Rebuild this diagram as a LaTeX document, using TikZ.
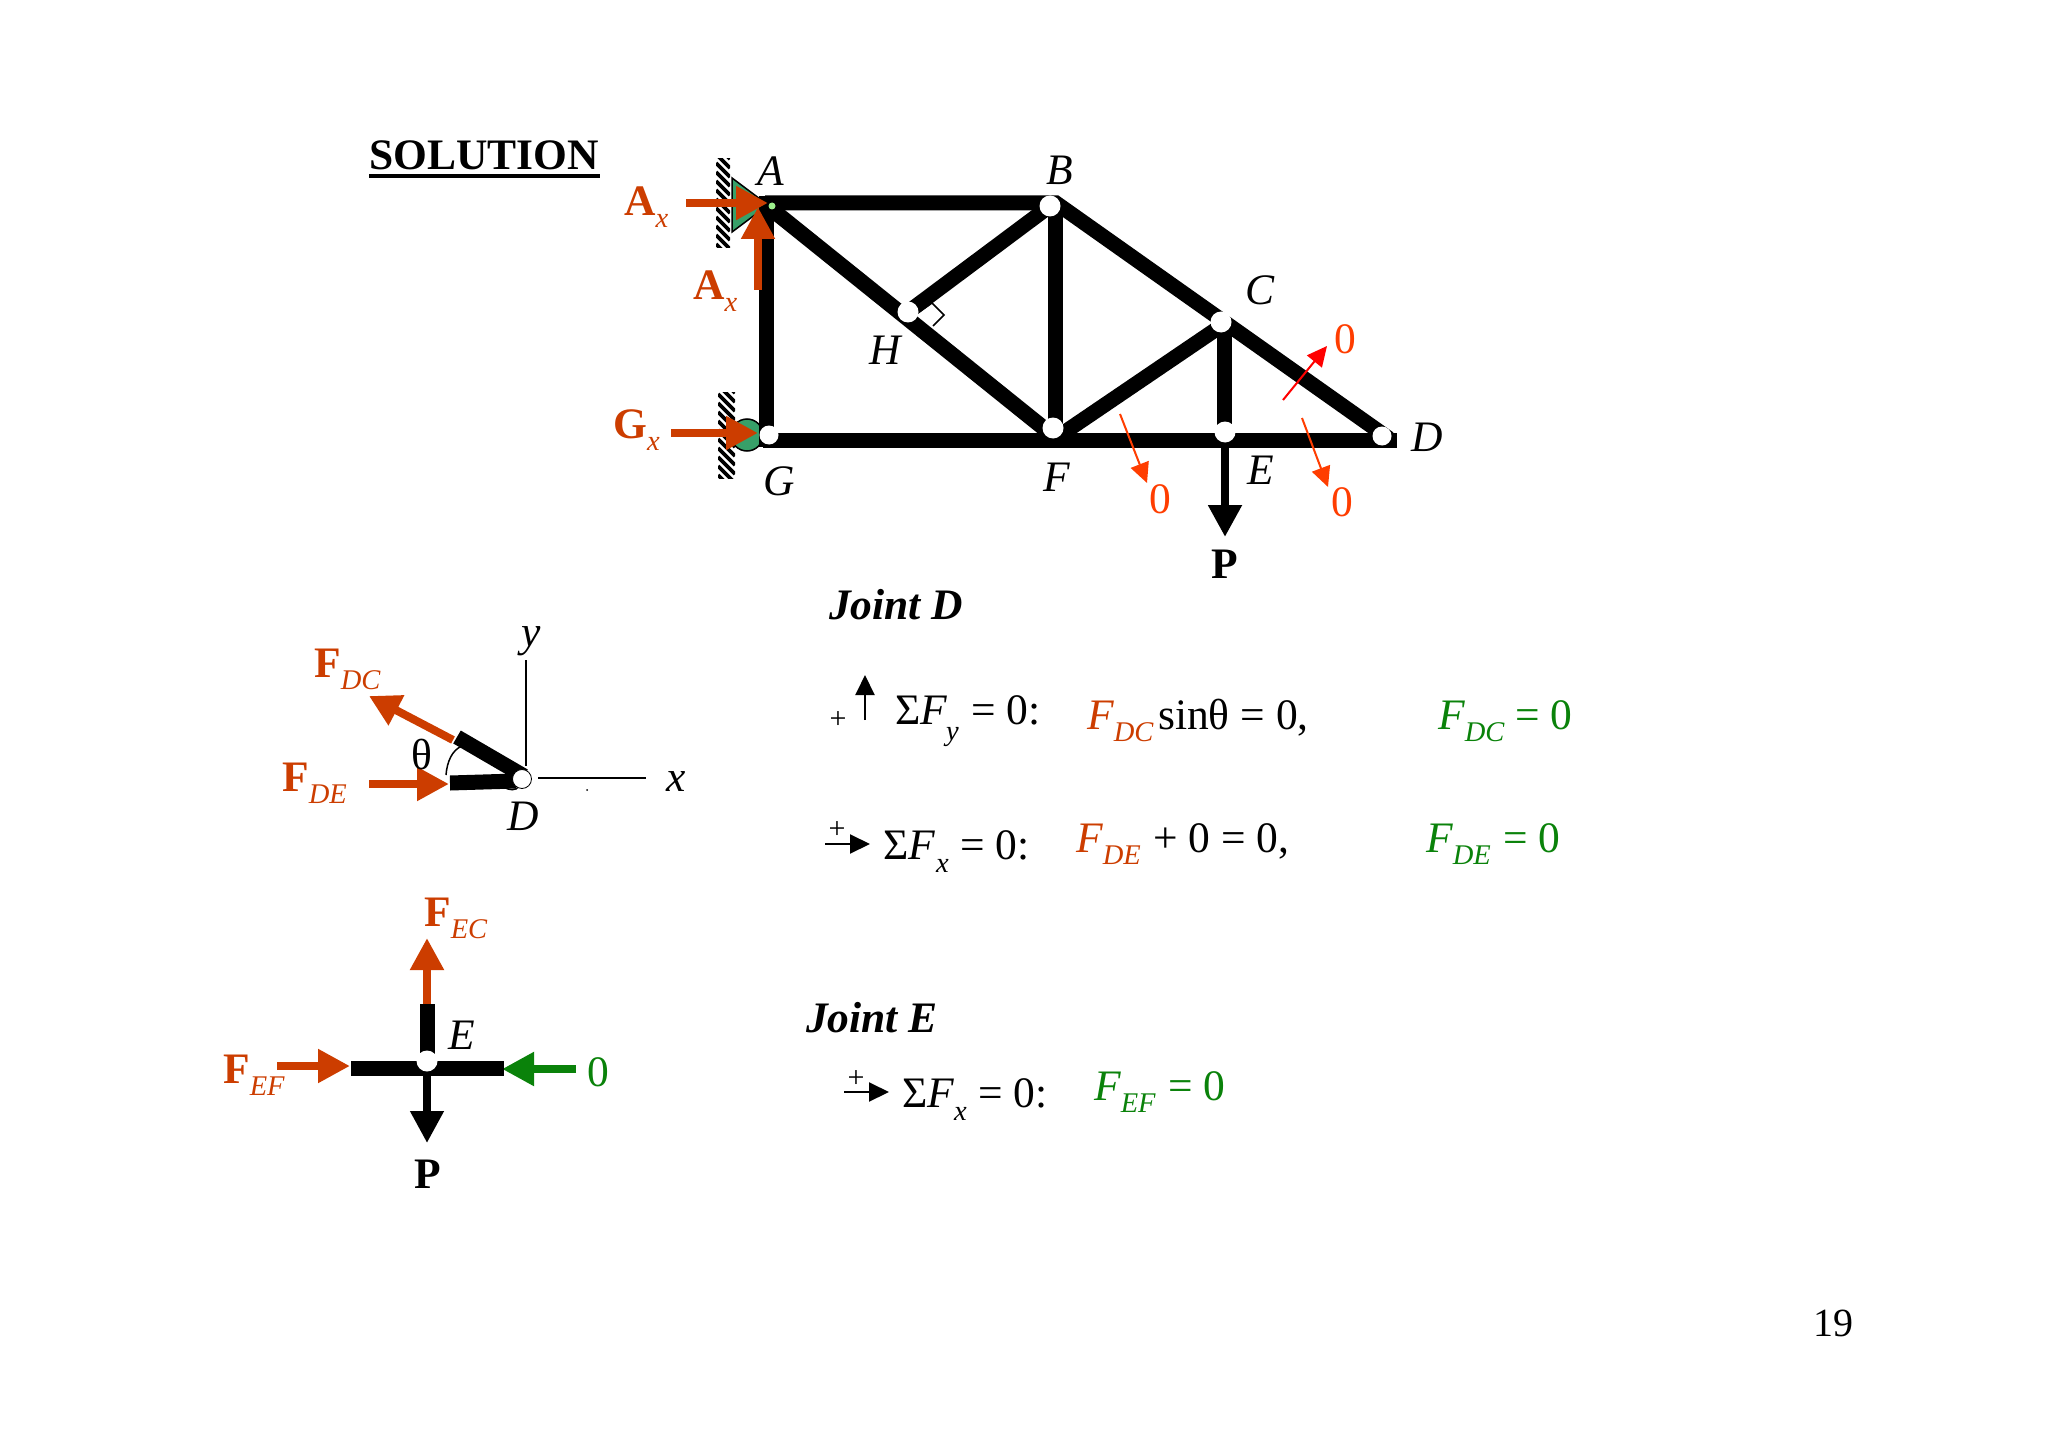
\documentclass[tikz,border=0pt]{standalone}
\usepackage{fontspec}
\setmainfont{Liberation Serif}
\usetikzlibrary{arrows.meta}
\definecolor{frc}{HTML}{CC3D00}
\definecolor{zer}{HTML}{FF3D00}
\definecolor{grn}{HTML}{0A820A}
\definecolor{sup}{HTML}{37A069}
\definecolor{dotg}{HTML}{9CF08C}
\newcommand{\bigf}{\fontsize{43.5}{50}\selectfont}
\newcommand{\subf}{\fontsize{28.5}{34}\selectfont}
\newcommand{\rsub}[1]{\raisebox{-12pt}{\subf\itshape #1}}
\newcommand{\bsub}[2]{{\bfseries #1}\rsub{#2}}
\newcommand{\isub}[2]{{\itshape #1}\rsub{#2}}
\tikzset{
  x=1pt,y=-1pt,
  member/.style={line width=15pt,line cap=butt,line join=miter,draw=black},
  joint/.style={circle,fill=white,inner sep=0pt,minimum size=21pt},
  txt/.style={anchor=base west,inner sep=0pt,font=\bigf},
  ctxt/.style={anchor=base,inner sep=0pt,font=\bigf},
  small/.style={anchor=base,inner sep=0pt,font=\fontsize{30}{34}\selectfont},
  force/.style={line width=8pt,draw=frc,-{Triangle[length=32pt,width=32pt]}},
  thinf/.style={line width=2pt,-{Triangle[length=20pt,width=19pt]}},
  axis/.style={line width=2pt,draw=black},
  hatchl/.style={line width=3.7pt,draw=black}
}
\begin{document}
\begin{tikzpicture}
\useasboundingbox (0,0) rectangle (2048,1447);
% ---------- supports
\begin{scope}
  \clip (716,159) rectangle (730,248);
  \foreach \i in {0,...,13} {\draw[hatchl] (716,145+9*\i) -- (730,159+9*\i);}
\end{scope}
\begin{scope}
  \clip (718,392) rectangle (735,478);
  \foreach \i in {0,...,13} {\draw[hatchl] (718,376+9*\i) -- (735,393+9*\i);}
\end{scope}
\draw[line width=1.5pt,fill=sup] (732,178) -- (768,205) -- (732,232) -- cycle;
\draw[line width=1.5pt,fill=sup] (747,435) circle (16);
% ---------- truss coordinates
\coordinate (tA) at (765,203);
\coordinate (tB) at (1056,203);
\coordinate (tD) at (1389,438.5);
\coordinate (vAt) at (766,196);
\coordinate (vAb) at (766,447);
\coordinate (bG) at (763,440);
\coordinate (bD) at (1397,440);
\coordinate (dA) at (770,208);
\coordinate (dF) at (1056,438);
\coordinate (hH) at (908,312);
\coordinate (hB) at (1050,206);
\coordinate (vBt) at (1055,203);
\coordinate (vBb) at (1055,440);
\coordinate (cF) at (1056,438);
\coordinate (cC) at (1221,326);
\coordinate (vCt) at (1224,322);
\coordinate (vCb) at (1224,440);
\draw[member] (vAt) -- (vAb);
\draw[member] (bG) -- (bD);
\draw[member,line width=15.5pt] (dA) -- (dF);
\draw[member] (hH) -- (hB);
\draw[member] (vBt) -- (vBb);
\draw[member] (cF) -- (cC);
\draw[member] (vCt) -- (vCb);
\draw[member] (tA.center) -- (tB.center) -- (tD.center);
\draw[line width=1.5pt] (918,313) -- (932,303) -- (944,315) -- (933,326);
% ---------- load and reactions
\coordinate (pS) at (1225,447);
\coordinate (pT) at (1225,537);
\draw[line width=8pt,-{Triangle[length=32pt,width=32pt]}] (pS) -- (pT);
\node[circle,fill=dotg,inner sep=0pt,minimum size=7pt] (A) at (772,206) {};
\coordinate (axS) at (686,203); \coordinate (axT) at (768,203);
\draw[force] (axS) -- (axT);
\coordinate (ayS) at (758,290); \coordinate (ayT) at (758,207);
\draw[force] (ayS) -- (ayT);
\coordinate (gxS) at (671,433); \coordinate (gxT) at (758,433);
\draw[force] (gxS) -- (gxT);
% ---------- joints
\node[joint] (B) at (1050,206) {};
\node[joint] (H) at (908,312) {};
\node[joint] (F) at (1053,428) {};
\node[joint,minimum size=19pt] (G) at (769,435) {};
\node[joint] (C) at (1221,322) {};
\node[joint] (E) at (1225,432) {};
\node[joint,minimum size=19pt] (D) at (1382,436) {};
% ---------- zero arrows
\coordinate (z1S) at (1283,400); \coordinate (z1T) at (1327,346);
\draw[thinf,draw=red,fill=red] (z1S) -- (z1T);
\coordinate (z2S) at (1120,414); \coordinate (z2T) at (1147,483);
\draw[thinf,draw=zer,fill=zer] (z2S) -- (z2T);
\coordinate (z3S) at (1302,418); \coordinate (z3T) at (1328,487);
\draw[thinf,draw=zer,fill=zer] (z3S) -- (z3T);
% ---------- truss labels
\node[txt,font=\bigf\bfseries] (sol) at (369,170) {SOLUTION};
\coordinate (solL) at (369,176.5); \coordinate (solR) at (600,176.5);
\draw[line width=4pt] (solL) -- (solR);
\node[ctxt,font=\bigf\itshape] (lA) at (771,186) {A};
\node[ctxt,font=\bigf\itshape] (lB) at (1060,185) {B};
\node[ctxt,font=\bigf\itshape] (lH) at (885,364) {H};
\node[ctxt,font=\bigf\itshape] (lG) at (779,495) {G};
\node[ctxt,font=\bigf\itshape] (lF) at (1057,491) {F};
\node[ctxt,font=\bigf\itshape] (lC) at (1260,305) {C};
\node[ctxt,font=\bigf\itshape] (lD) at (1427,451) {D};
\node[ctxt,font=\bigf\itshape] (lE) at (1261,484) {E};
\node[ctxt,text=zer] (z1) at (1345,353) {0};
\node[ctxt,text=zer] (z2) at (1160,513) {0};
\node[ctxt,text=zer] (z3) at (1342,516) {0};
\node[ctxt,font=\bigf\bfseries] (lP) at (1225,578) {P};
\node[txt,text=frc] (lAx) at (624,216) {\bsub{A}{x}};
\node[txt,text=frc] (lAy) at (693,300) {\bsub{A}{x}};
\node[txt,text=frc] (lGx) at (613,438) {\bsub{G}{x}};
% ---------- joint D free body
\coordinate (yT) at (526,660); \coordinate (yB) at (526,766);
\draw[axis] (yT) -- (yB);
\coordinate (xL) at (538,778); \coordinate (xR) at (646,778);
\draw[axis] (xL) -- (xR);
\coordinate (fdcE) at (453,740); \coordinate (fdcT) at (369,696);
\draw[force,-{Triangle[length=31pt,width=32pt]}] (fdcE) -- (fdcT);
\coordinate (fdeS) at (369,784); \coordinate (fdeT) at (449,784);
\draw[force] (fdeS) -- (fdeT);
\coordinate (mdc1) at (457,737); \coordinate (mdc2) at (524,776);
\coordinate (mde1) at (450,783); \coordinate (mde2) at (516,781);
\draw[member] (mdc1) -- (mdc2);
\draw[member] (mde1) -- (mde2);
\draw[line width=1.5pt] (446,775) .. controls (447,762) and (452,750) .. (462,746);
\draw[line width=1.5pt] (503,786) .. controls (508,791) and (517,791) .. (519,786);
\node[joint,minimum size=19pt,draw=black,line width=0.8pt] (D2) at (522,779) {};
\fill (587,790) circle (1);
\node[ctxt,font=\bigf\itshape] (ly) at (531,646) {y};
\node[ctxt,font=\bigf\itshape] (lx) at (676,791) {x};
\node[ctxt,font=\bigf\itshape] (lD2) at (523,830) {D};
\node[ctxt] (lth) at (422,769) {θ};
\node[txt,text=frc] (lFDC) at (314,677) {\bsub{F}{DC}};
\node[txt,text=frc] (lFDE) at (282,791) {\bsub{F}{DE}};
% ---------- joint E free body
\coordinate (mh1) at (351,1068); \coordinate (mh2) at (504,1068);
\coordinate (mv1) at (427,1004); \coordinate (mv2) at (427,1060);
\coordinate (fecS) at (427,1004); \coordinate (fecT) at (427,938);
\draw[force] (fecS) -- (fecT);
\coordinate (pES) at (427,1070); \coordinate (pET) at (427,1143);
\draw[line width=7.5pt,-{Triangle[length=32pt,width=32pt]}] (pES) -- (pET);
\coordinate (fefS) at (277,1066); \coordinate (fefT) at (350,1066);
\draw[force] (fefS) -- (fefT);
\coordinate (z0S) at (576,1069); \coordinate (z0T) at (502,1069);
\draw[force,draw=grn] (z0S) -- (z0T);
\draw[member] (mh1) -- (mh2);
\draw[member] (mv1) -- (mv2);
\node[joint] (E2) at (427,1061) {};
\node[ctxt,font=\bigf\itshape] (lE2) at (462,1049) {E};
\node[ctxt,text=grn] (lz0) at (598,1086) {0};
\node[ctxt,font=\bigf\bfseries] (lP2) at (428,1188) {P};
\node[txt,text=frc] (lFEC) at (424,926) {\bsub{F}{EC}};
\node[txt,text=frc] (lFEF) at (223,1083) {\bsub{F}{EF}};
% ---------- Joint D equations
\node[txt,font=\bigf\bfseries\itshape] (jD) at (829,619) {Joint D};
\coordinate (upS) at (865,720); \coordinate (upT) at (865,675);
\draw[thinf] (upS) -- (upT);
\node[small] (pl1) at (838,728) {+};
\node[txt] (sFy) at (895,724) {Σ\textit{F}};
\node[txt,font=\subf\itshape] (sFyS) at (946,740) {y};
\node[txt] (eq1) at (971,724) {= 0:};
\node[txt,text=frc] (fdc) at (1087,729) {\isub{F}{DC}};
\node[txt] (sin) at (1158,729) {sinθ = 0,};
\node[txt,text=grn] (fdc0) at (1438,729) {\isub{F}{DC}};
\node[txt,text=grn] (fdc0e) at (1515,729) {= 0};
\coordinate (riS) at (825,844); \coordinate (riT) at (870,844);
\draw[thinf] (riS) -- (riT);
\node[small] (pl2) at (837,838) {+};
\node[txt] (sFx) at (883,859) {Σ\textit{F}};
\node[txt,font=\subf\itshape] (sFxS) at (936,872) {x};
\node[txt] (eq2) at (960,859) {= 0:};
\node[txt,text=frc] (fde) at (1076,852) {\isub{F}{DE}};
\node[txt] (pz) at (1153,852) {+ 0 = 0,};
\node[txt,text=grn] (fde0) at (1426,852) {\isub{F}{DE}};
\node[txt,text=grn] (fde0e) at (1503,852) {= 0};
% ---------- Joint E equations
\node[txt,font=\bigf\bfseries\itshape] (jE) at (806,1032) {Joint E};
\coordinate (ri2S) at (844,1092); \coordinate (ri2T) at (889,1092);
\draw[thinf] (ri2S) -- (ri2T);
\node[small] (pl3) at (856,1087) {+};
\node[txt] (sFx2) at (902,1107) {Σ\textit{F}};
\node[txt,font=\subf\itshape] (sFx2S) at (954,1120) {x};
\node[txt] (eq3) at (978,1107) {= 0:};
\node[txt,text=grn] (fef) at (1094,1100) {\isub{F}{EF}};
\node[txt,text=grn] (fefe) at (1168,1100) {= 0};
\node[ctxt,font=\fontsize{40}{46}\selectfont] (pg) at (1833,1336) {19};
\end{tikzpicture}
\end{document}
